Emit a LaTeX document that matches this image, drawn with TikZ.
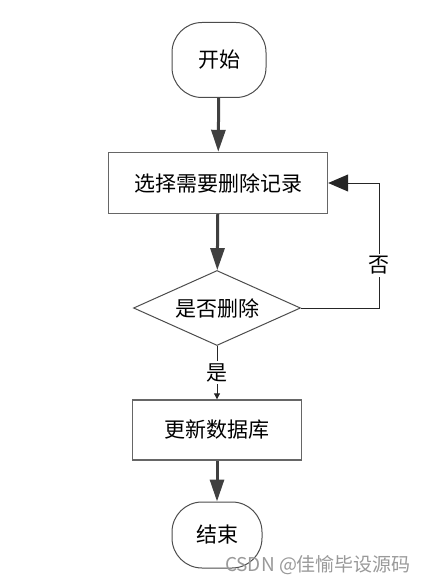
\documentclass[tikz,border=0pt]{standalone}
\usepackage{fontspec}
\setmainfont{Noto Sans CJK SC}
\usetikzlibrary{shapes.geometric,arrows.meta}

\begin{document}
\begin{tikzpicture}[x=0.5pt,y=-0.5pt,
    every node/.style={font=\fontsize{10.5}{12}\selectfont},
    terminal/.style={draw=black!70, line width=0.5pt, rounded corners=15pt, minimum width=47pt, minimum height=37.5pt},
    procbox/.style={draw=black!60, line width=0.7pt, minimum height=30.5pt},
    decision/.style={draw=black!70, line width=0.5pt, diamond, aspect=2.2, minimum width=83.5pt, minimum height=37.5pt, inner sep=0pt},
    flow/.style={draw=black!75, line width=1.5pt, -{Triangle[length=11pt,width=7pt]}},
    thinflow/.style={draw=black!85, line width=0.5pt}]
  \useasboundingbox (0,0) rectangle (426,583);
  % nodes
  \node[terminal] (start) at (219,60) {开始};
  \node[procbox, minimum width=109.5pt] (select) at (218,183) {选择需要删除记录};
  \node[decision] (ask) at (217,308) {是否删除};
  \node[procbox, minimum width=84.5pt, minimum height=30pt] (update) at (217,430) {更新数据库};
  \node[terminal, minimum width=45pt, minimum height=33pt] (stop) at (217,535) {结束};
  \coordinate (back) at (379,308);
  % connectors
  \draw[flow] (start) -- (select);
  \draw[flow] (select) -- (ask);
  \draw[thinflow, -{Triangle[length=10pt,width=8.5pt]}] (ask.east) -- (back) |- (select.east)
    node[pos=0.17, fill=white, inner sep=1pt] {否};
  \draw[thinflow, -{Triangle[length=3pt,width=3pt]}] (ask.south) -- (update.north)
    node[midway, fill=white, inner sep=1pt] {是};
  \draw[flow] (update) -- (stop);
  % watermark
  \node[text=black!40, font=\fontsize{9.5}{11}\selectfont] (mark) at (318,565) {CSDN @佳愉毕设源码};
\end{tikzpicture}
\end{document}
